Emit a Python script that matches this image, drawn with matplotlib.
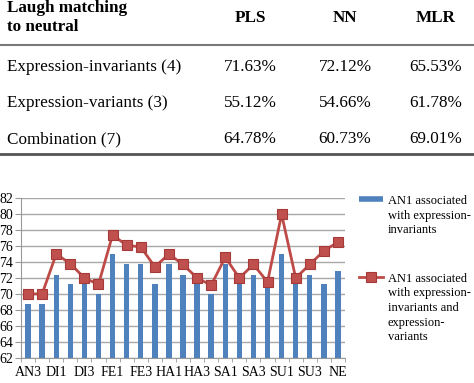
import numpy as np
import matplotlib
matplotlib.use("Agg")
from matplotlib import pyplot as plt
from matplotlib.lines import Line2D

plt.rcParams['font.family'] = ['Liberation Serif', 'DejaVu Serif']

# table on top
table_methods = ["PLS", "NN", "MLR"]
table_rows = ["Expression-invariants (4)", "Expression-variants (3)", "Combination (7)"]
table_values = [[71.63, 72.12, 65.53],
                [55.12, 54.66, 61.78],
                [64.78, 60.73, 69.01]]

# chart below
categories = ["AN3", "AN4", "DI1", "DI2", "DI3", "DI4", "FE1", "FE2", "FE3", "FE4",
              "HA1", "HA2", "HA3", "HA4", "SA1", "SA2", "SA3", "SA4", "SU1", "SU2",
              "SU3", "SU4", "NE"]
invariants = [68.8, 68.8, 72.4, 71.3, 71.3, 70.0, 75.0, 73.7, 73.7, 71.3,
              73.7, 72.4, 71.3, 70.0, 73.7, 71.3, 72.4, 71.0, 75.0, 71.3,
              72.4, 71.2, 72.9]
combined = [70.0, 70.0, 75.0, 73.8, 72.0, 71.2, 77.4, 76.1, 75.9, 73.4,
            75.0, 73.7, 72.0, 71.1, 74.6, 72.0, 73.7, 71.5, 80.0, 72.0,
            73.7, 75.4, 76.5]
legend_labels = ["AN1 associated\nwith expression-\ninvariants",
                 "AN1 associated\nwith expression-\ninvariants and\nexpression-\nvariants"]

W, H = 474, 383
fig = plt.figure(figsize=(W / 100, H / 100), dpi=100)


def fx(px):
    return px / W


def fy(py):
    return 1 - py / H


# ---- table ----
fs_tab = 12.3
fig.text(fx(7), fy(11.5), "Laugh matching", fontsize=fs_tab, fontweight='bold', va='baseline')
fig.text(fx(7), fy(31.2), "to neutral", fontsize=fs_tab, fontweight='bold', va='baseline')
col_x = [250, 345, 436]
for cx, m in zip(col_x, table_methods):
    fig.text(fx(cx), fy(21.7), m, fontsize=fs_tab, fontweight='bold', ha='center', va='baseline')
row_y = [71, 107.3, 143.3]
for ry, name, vals in zip(row_y, table_rows, table_values):
    fig.text(fx(7), fy(ry), name, fontsize=fs_tab, va='baseline')
    for cx, v in zip(col_x, vals):
        fig.text(fx(cx), fy(ry), f"{v:.2f}%", fontsize=fs_tab, ha='center', va='baseline')
fig.add_artist(Line2D([0, 1], [fy(45), fy(45)], transform=fig.transFigure, color='#7a7a7a', lw=1.5))
fig.add_artist(Line2D([0, 1], [fy(154), fy(154)], transform=fig.transFigure, color='#555555', lw=2))

# ---- chart ----
ax = fig.add_axes([fx(21), fy(357.7), fx(345) - fx(21), fy(198.3) - fy(357.7)])
x = np.arange(len(categories))
ax.bar(x, invariants, width=0.38, color='#4F81BD', zorder=2)
ax.plot(x, combined, color='#BE4B48', lw=2, marker='s', ms=7.5,
        mfc='#C0504D', mec='#A63A38', mew=0.8, zorder=3)

ax.set_xlim(-0.5, len(categories) - 0.5)
ax.set_ylim(62, 82)
ax.set_yticks(np.arange(62, 83, 2))
ax.yaxis.grid(True, color='#a8a8a8', lw=1, zorder=0)
ax.set_axisbelow(True)
ax.set_xticks(x[::2])
ax.set_xticklabels(categories[::2])
ax.set_xticks(np.arange(-0.5, len(categories), 1), minor=True)
ax.tick_params(axis='x', which='major', length=0, labelsize=10, pad=6)
ax.tick_params(axis='x', which='minor', length=3, color='#999999')
ax.tick_params(axis='y', length=4, color='#999999', labelsize=10, pad=1.5)
for s in ['top', 'right']:
    ax.spines[s].set_visible(False)
for s in ['left', 'bottom']:
    ax.spines[s].set_color('#999999')

handles = [Line2D([], [], color='#4F81BD', lw=4, solid_capstyle='butt'),
           Line2D([], [], color='#BE4B48', lw=2, marker='s', ms=7.5,
                  mfc='#C0504D', mec='#A63A38', mew=0.8)]
leg = fig.legend(handles, legend_labels, loc='upper left', bbox_to_anchor=(fx(359), fy(195)),
                 frameon=False, fontsize=9, borderpad=0, borderaxespad=0,
                 handlelength=1.9, handletextpad=0.4, labelspacing=2.9)
for t in leg.get_texts():
    t.set_linespacing(1.3)
for col in leg._legend_handle_box.get_children():
    for hp in col.get_children():
        hp.align = 'top'

fig.savefig("out.png", dpi=100)
